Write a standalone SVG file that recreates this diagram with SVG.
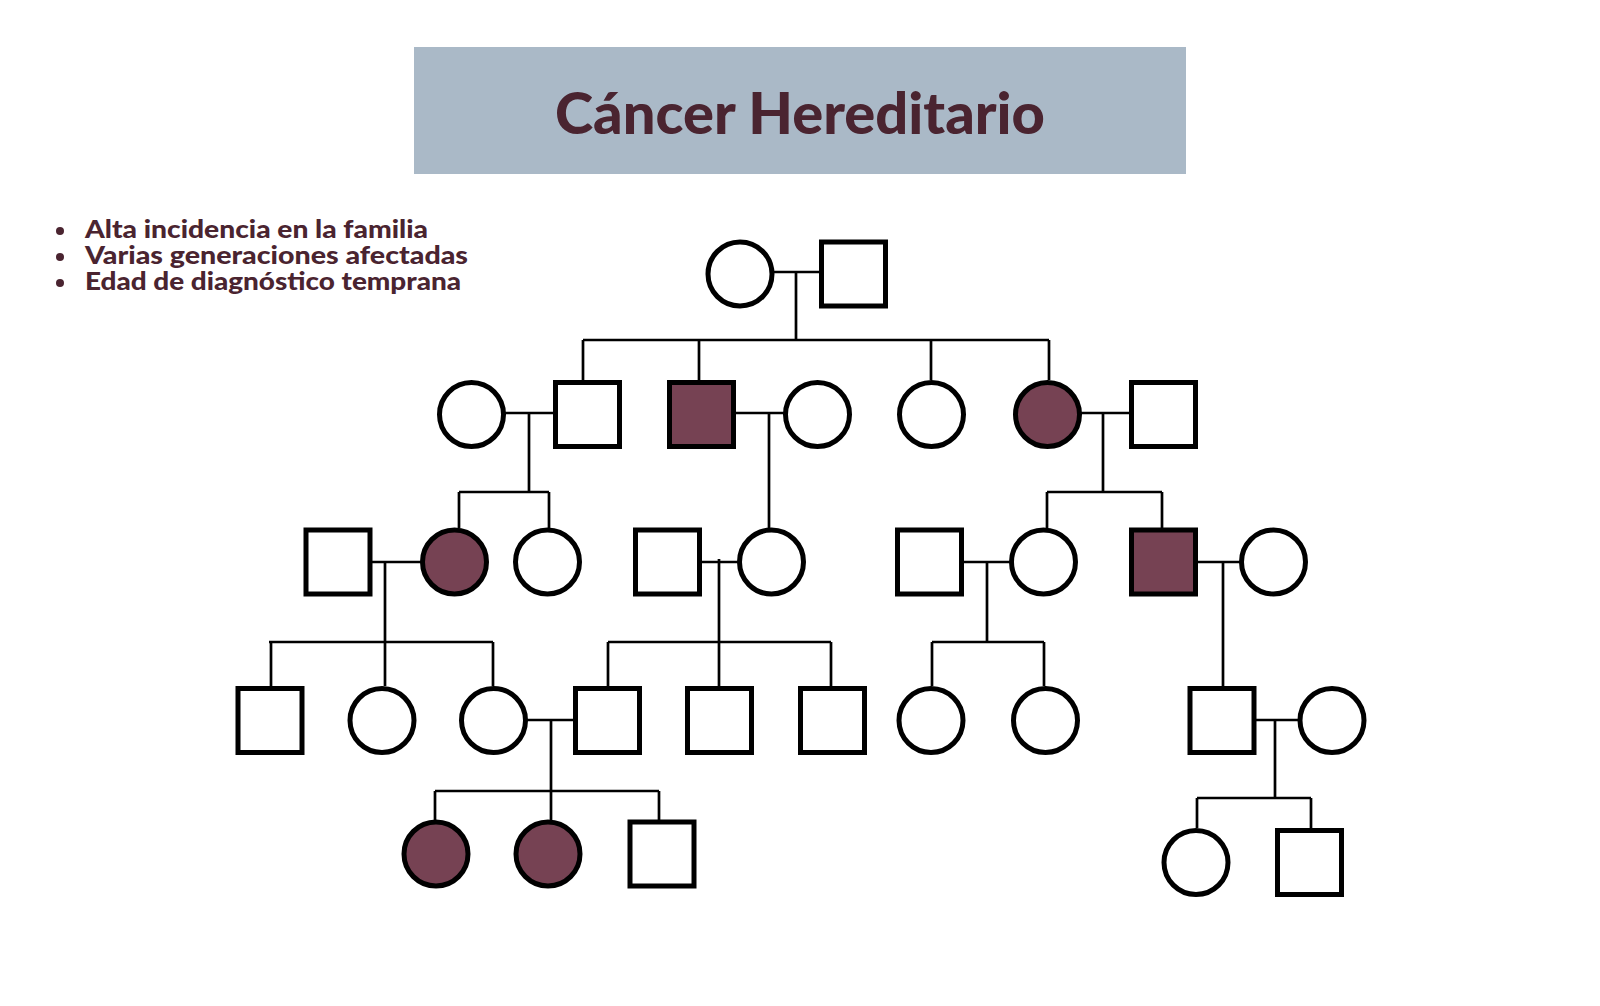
<svg xmlns="http://www.w3.org/2000/svg" width="1600" height="1006" viewBox="0 0 1600 1006">
<style>
.bg{fill:#ffffff}
.title-box{fill:#aab9c7}
.title{font-family:Lato,"Open Sans","Liberation Sans",sans-serif;font-weight:900;font-size:57px;fill:#4a2430}
.bul{font-family:Lato,"Open Sans","Liberation Sans",sans-serif;font-weight:900;font-size:24px;fill:#4a2430}
.dot{fill:#4a2430}
.n{fill:#ffffff;stroke:#000000;stroke-width:5}
.a{fill:#764253;stroke:#000000;stroke-width:5}
.ln{fill:none;stroke:#000000;stroke-width:2.7;stroke-linecap:butt}
</style>
<rect class="bg" x="0" y="0" width="1600" height="1006"/>
<g id="title">
<rect class="title-box" x="414" y="47" width="772" height="127"/>
<text class="title" x="555" y="134" textLength="490" lengthAdjust="spacingAndGlyphs">Cáncer Hereditario</text>
</g>
<g id="bullets">
<circle class="dot" cx="60" cy="231" r="4"/>
<circle class="dot" cx="60" cy="257" r="4"/>
<circle class="dot" cx="60" cy="283" r="4"/>
<text class="bul" x="85" y="238" textLength="343" lengthAdjust="spacingAndGlyphs">Alta incidencia en la familia</text>
<text class="bul" x="85" y="264" textLength="383" lengthAdjust="spacingAndGlyphs">Varias generaciones afectadas</text>
<text class="bul" x="85" y="290" textLength="376" lengthAdjust="spacingAndGlyphs">Edad de diagnóstico temprana</text>
</g>
<g id="connectors">
<path class="ln" d="M772 272 H821 M796 272 V340 M583 340 H1049 M583 340 V380 M699 340 V380 M931 340 V380 M1049 340 V380"/>
<path class="ln" d="M504 413 H555 M529 413 V492 M459 492 H549 M459 492 V528 M549 492 V528"/>
<path class="ln" d="M734 413 H785 M769 413 V528"/>
<path class="ln" d="M1080 413 H1131 M1103 413 V492 M1047 492 H1162 M1047 492 V528 M1162 492 V528"/>
<path class="ln" d="M370 562 H422 M385 562 V642 M269 642 H493 M271 642 V686 M385 642 V686 M493 642 V686"/>
<path class="ln" d="M700 562 H739 M719 559 V642 M608 642 H831 M608 642 V686 M719 642 V686 M831 642 V686"/>
<path class="ln" d="M962 562 H1012 M987 562 V642 M932 642 H1044 M932 642 V686 M1044 642 V686"/>
<path class="ln" d="M1196 562 H1242 M1223 562 V686"/>
<path class="ln" d="M526 720 H575 M551 720 V791 M435 791 H659 M435 791 V820 M551 791 V820 M659 791 V820"/>
<path class="ln" d="M1254 720 H1300 M1275 720 V798 M1197 798 H1311 M1197 798 V828 M1311 798 V828"/>
</g>
<g id="gen1">
<circle id="i1" class="n" cx="740" cy="274" r="32"/>
<rect id="i2" class="n" x="821.5" y="242" width="64" height="64"/>
</g>
<g id="gen2">
<circle id="ii1" class="n" cx="471.5" cy="414.5" r="32"/>
<rect id="ii2" class="n" x="555.5" y="382.5" width="64" height="64"/>
<rect id="ii3" class="a" x="669.5" y="382.5" width="64" height="64"/>
<circle id="ii4" class="n" cx="817.5" cy="414.5" r="32"/>
<circle id="ii5" class="n" cx="931.5" cy="414.5" r="32"/>
<circle id="ii6" class="a" cx="1047.5" cy="414.5" r="32"/>
<rect id="ii7" class="n" x="1131.5" y="382.5" width="64" height="64"/>
</g>
<g id="gen3">
<rect id="iii1" class="n" x="306" y="530" width="64" height="64"/>
<circle id="iii2" class="a" cx="454.5" cy="562" r="32"/>
<circle id="iii3" class="n" cx="547.5" cy="562" r="32"/>
<rect id="iii4" class="n" x="635.5" y="530" width="64" height="64"/>
<circle id="iii5" class="n" cx="771.5" cy="562" r="32"/>
<rect id="iii6" class="n" x="897.5" y="530" width="64" height="64"/>
<circle id="iii7" class="n" cx="1043.5" cy="562" r="32"/>
<rect id="iii8" class="a" x="1131.5" y="530" width="64" height="64"/>
<circle id="iii9" class="n" cx="1273.5" cy="562" r="32"/>
</g>
<g id="gen4">
<rect id="iv1" class="n" x="238" y="688.5" width="64" height="64"/>
<circle id="iv2" class="n" cx="382" cy="720.5" r="32"/>
<circle id="iv3" class="n" cx="493.5" cy="720.5" r="32"/>
<rect id="iv4" class="n" x="575.5" y="688.5" width="64" height="64"/>
<rect id="iv5" class="n" x="687.5" y="688.5" width="64" height="64"/>
<rect id="iv6" class="n" x="800.5" y="688.5" width="64" height="64"/>
<circle id="iv7" class="n" cx="931" cy="720.5" r="32"/>
<circle id="iv8" class="n" cx="1045.5" cy="720.5" r="32"/>
<rect id="iv9" class="n" x="1190" y="688.5" width="64" height="64"/>
<circle id="iv10" class="n" cx="1332" cy="720.5" r="32"/>
</g>
<g id="gen5">
<circle id="v1" class="a" cx="436" cy="854" r="32"/>
<circle id="v2" class="a" cx="548" cy="854" r="32"/>
<rect id="v3" class="n" x="630" y="822" width="64" height="64"/>
<circle id="v4" class="n" cx="1196" cy="862.5" r="32"/>
<rect id="v5" class="n" x="1277.5" y="830.5" width="64" height="64"/>
</g>
</svg>
